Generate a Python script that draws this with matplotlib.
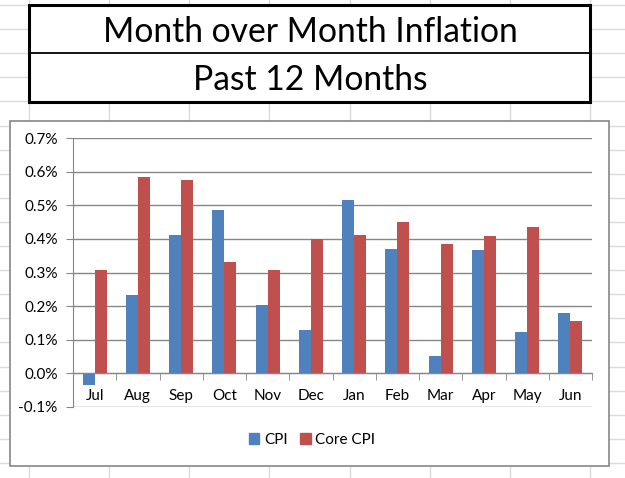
import matplotlib
matplotlib.use("Agg")
import matplotlib.pyplot as plt
from matplotlib.patches import Rectangle, Patch

plt.rcParams["font.family"] = ["Lato", "DejaVu Sans"]

# month-over-month inflation, percent
months = ["Jul", "Aug", "Sep", "Oct", "Nov", "Dec", "Jan", "Feb", "Mar", "Apr", "May", "Jun"]
cpi = [-0.035, 0.234, 0.413, 0.487, 0.204, 0.129, 0.517, 0.371, 0.052, 0.368, 0.123, 0.180]
core_cpi = [0.308, 0.583, 0.574, 0.332, 0.308, 0.399, 0.413, 0.451, 0.386, 0.410, 0.436, 0.156]
yticks = [-0.1, 0.0, 0.1, 0.2, 0.3, 0.4, 0.5, 0.6, 0.7]

BLUE = "#4F81BD"
RED = "#C0504D"
AXIS_GRAY = "#868686"
SHEET_GRID = "#dadada"

W, H = 625, 478
fig = plt.figure(figsize=(W / 100, H / 100), dpi=100)
fig.patch.set_facecolor("white")

# background "spreadsheet" layer in pixel coordinates
bg = fig.add_axes([0, 0, 1, 1], zorder=0)
bg.set_xlim(0, W)
bg.set_ylim(H, 0)
bg.axis("off")

for k in range(8):
    bg.axvline(29 + 80.15 * k, color=SHEET_GRID, lw=1)
for k in range(20):
    bg.axhline(5 + 24.1 * k, color=SHEET_GRID, lw=1)

# title cells
bg.add_patch(Rectangle((29, 5), 561, 97, facecolor="white", edgecolor="black", lw=2.2, zorder=3))
bg.plot([29, 590], [53, 53], color="black", lw=1.3, zorder=4)
bg.text(310, 32, "Month over Month Inflation", ha="center", va="center", fontsize=24.2, zorder=5)
bg.text(310, 80, "Past 12 Months", ha="center", va="center", fontsize=24.2, zorder=5)

# chart area
bg.add_patch(Rectangle((9.5, 121), 599.5, 345, facecolor="white", edgecolor=AXIS_GRAY, lw=1.2, zorder=3))

# plot area
ax = fig.add_axes([73 / W, 1 - 407 / H, 519 / W, 269 / H], zorder=2)
ax.patch.set_alpha(0)
x = list(range(len(months)))
bw = 0.28
ax.bar([i - bw / 2 for i in x], cpi, width=bw, color=BLUE, label="CPI", zorder=3)
ax.bar([i + bw / 2 for i in x], core_cpi, width=bw, color=RED, label="Core CPI", zorder=3)

ax.set_xlim(-0.5, len(months) - 0.5)
ax.set_ylim(-0.1, 0.7)
ax.set_yticks(yticks)
ax.set_yticklabels([f"{v:.1f}%" for v in yticks])
ax.yaxis.grid(True, color=AXIS_GRAY, lw=1)
ax.set_axisbelow(True)

ax.spines[["top", "right"]].set_visible(False)
ax.spines["left"].set_color(AXIS_GRAY)
ax.spines["bottom"].set_position(("data", 0))
ax.spines["bottom"].set_color(AXIS_GRAY)
ax.spines["bottom"].set_zorder(4)

ax.set_xticks(x)
ax.set_xticklabels(months)
ax.set_xticks([i - 0.5 for i in range(len(months) + 1)], minor=True)
ax.tick_params(axis="x", which="major", length=0, pad=11, labelsize=11)
ax.tick_params(axis="x", which="minor", length=5, color=AXIS_GRAY, direction="out")
ax.tick_params(axis="y", length=5, color=AXIS_GRAY, pad=6, labelsize=11)

fig.legend(
    handles=[Patch(color=BLUE, label="CPI"), Patch(color=RED, label="Core CPI")],
    loc="center", bbox_to_anchor=(312 / W, 1 - 440 / H), ncol=2, frameon=False,
    fontsize=11, handlelength=0.7, handleheight=0.7, handletextpad=0.3, columnspacing=0.8,
)

fig.savefig("out.png", dpi=100, facecolor="white")
